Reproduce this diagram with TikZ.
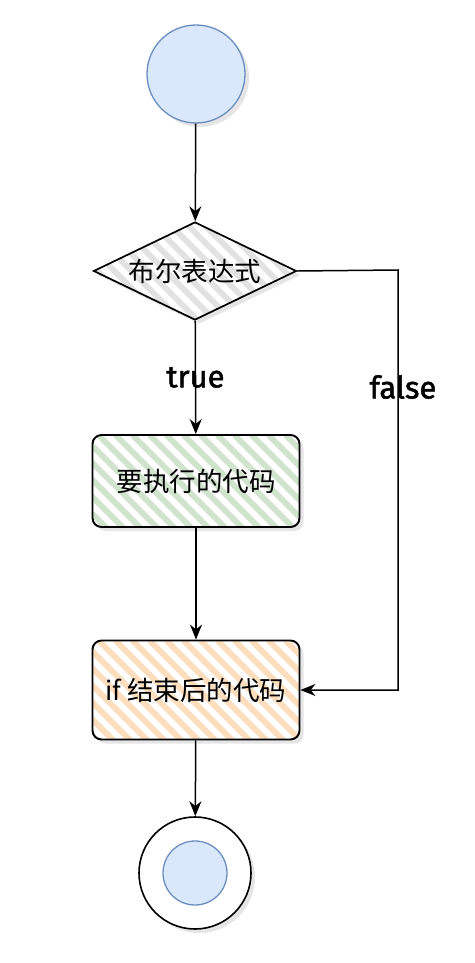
\documentclass[tikz,border=0pt]{standalone}
\usepackage{fontspec}
\setmainfont{Noto Sans CJK SC}
\newfontfamily\lblfont[FakeBold=1.6]{Fira Sans}
\usetikzlibrary{shapes.geometric,arrows.meta,calc,shadows}
\definecolor{blfill}{HTML}{DAE8FC}
\definecolor{blline}{HTML}{6C8EBF}
\definecolor{grhatch}{HTML}{D0E4CD}
\definecolor{orhatch}{HTML}{FCDDBD}
\definecolor{gyhatch}{HTML}{E2E2E2}
\tikzset{
  hatch/.style={path picture={
    \foreach \i in {-300,-283,...,300}{
      \draw[#1,line width=6pt] ($(path picture bounding box.north west)+(\i,0)$) -- ++(300,300);
    }}},
  shad/.style={drop shadow={shadow xshift=4pt, shadow yshift=-4pt, opacity=0.14, fill=black!70}},
  boxtxt/.style={font=\fontsize{26.5}{31}\selectfont},
  codebox/.style={rectangle, rounded corners=9pt, draw=black, fill=white, line width=1.9pt,
    minimum width=207pt, inner sep=0, boxtxt, shad},
  arr/.style={line width=1.5pt, -{Stealth[length=15pt,width=12pt]}},
  lbl/.style={font=\lblfont\fontsize{31}{36}\selectfont, inner sep=0},
}
\begin{document}
\begin{tikzpicture}[x=1pt,y=-1pt]
\useasboundingbox (0,0) rectangle (474,963);
\fill[white] (0,0) rectangle (474,963);
% start
\node[circle, draw=blline, fill=blfill, line width=1.3pt, minimum size=98pt, inner sep=0, shad] (start) at (196,74) {};
% condition
\node[diamond, draw=black, fill=white, line width=1.7pt, minimum width=203pt, minimum height=98pt,
      aspect=2.07, inner sep=0, boxtxt, hatch=gyhatch, shad] (cond) at (195,271) {布尔表达式};
% boxes
\node[codebox, minimum height=92pt, hatch=grhatch] (b1) at (196,481) {要执行的代码};
\node[codebox, minimum height=99pt, hatch=orhatch] (b2) at (196,690) {if 结束后的代码};
% end
\node[circle, draw=black, fill=white, line width=1.6pt, minimum size=112pt, inner sep=0, shad] (end) at (195,873) {};
\node[circle, draw=blline, fill=blfill, line width=1.3pt, minimum size=64pt, inner sep=0] (endin) at (end) {};
% connectors
\draw[arr] (start) -- (cond);
\draw[arr] (cond) -- node[lbl] (ltrue) {true} (b1);
\draw[arr] (b1) -- (b2);
\draw[arr] (b2) -- (end);
\coordinate (f1) at (398,270);
\coordinate (f2) at (398,690);
\draw[arr] (cond.east) -- (f1) -- (f2) -- (b2.east);
\node[lbl] (lfalse) at (403,387) {false};
\end{tikzpicture}
\end{document}
